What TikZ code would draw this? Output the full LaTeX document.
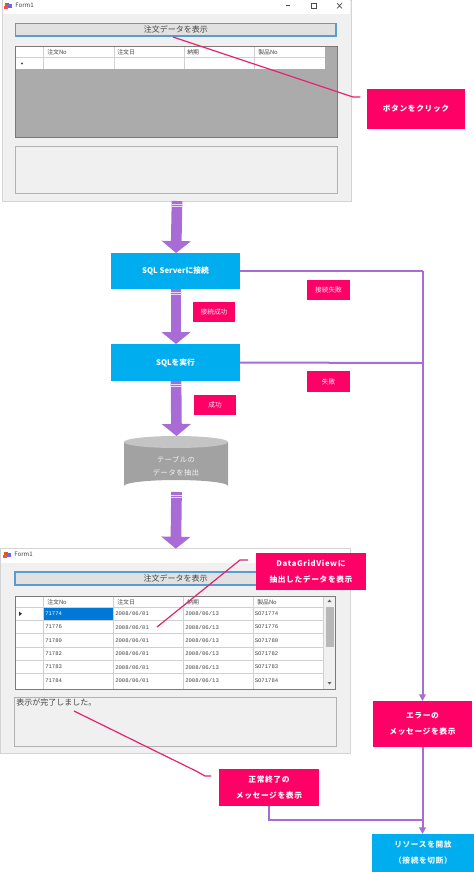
\documentclass[tikz,border=0pt]{standalone}
\usepackage{fontspec}
\usetikzlibrary{arrows.meta}
\setmainfont{Noto Sans CJK JP}
\newfontfamily\spaced[LetterSpace=8]{Noto Sans CJK JP}
\setmonofont{Liberation Mono}
\definecolor{pinkbox}{HTML}{FF0066}
\definecolor{cyanbox}{HTML}{00AEEF}
\definecolor{purp}{HTML}{A96CD6}
\definecolor{pinkline}{HTML}{E0246E}
\definecolor{winbg}{HTML}{F0F0F0}
\definecolor{winedge}{HTML}{D4D4D4}
\definecolor{gridbg}{HTML}{ABABAB}
\definecolor{gridedge}{HTML}{7A7A7A}
\definecolor{cellline}{HTML}{D0D0D0}
\definecolor{btnblue}{HTML}{5A9BD0}
\definecolor{btnfill}{HTML}{E1E1E1}
\definecolor{txt}{HTML}{444444}
\definecolor{selcell}{HTML}{0078D7}
\newcommand{\BX}[7]{\node[#6,minimum width={(#4-#2)*0.75pt},minimum height={(#5-#3)*0.75pt}] (#1) at ({(#2+#4)/2},{(#3+#5)/2}) {#7};}
\tikzset{
 base/.style={inner sep=0pt,outer sep=0pt,rectangle,align=center},
 window/.style={base,fill=winbg,draw=winedge,line width=.6pt},
 titlebar/.style={base,fill=white},
 btn/.style={base,fill=btnfill,draw=btnblue,line width=.9pt,font=\fontsize{6}{7}\selectfont,text=txt},
 grid/.style={base,fill=gridbg,draw=gridedge,line width=.7pt},
 gridw/.style={base,fill=white,draw=gridedge,line width=.7pt},
 msg/.style={base,fill=winbg,draw=black!30,line width=.6pt},
 pinkb/.style={base,fill=pinkbox,text=white,font=\spaced\bfseries\fontsize{5.8}{12}\selectfont},
 pinks/.style={base,fill=pinkbox,text=white!90!pinkbox,font=\fontsize{5}{6}\selectfont},
 cyanb/.style={base,fill=cyanbox,text=white,font=\bfseries\fontsize{5.8}{12}\selectfont},
 cyanc/.style={base,fill=cyanbox,text=white!90!cyanbox,font=\spaced\bfseries\fontsize{5.8}{12}\selectfont},
 bigarrow/.style={draw=purp,line width=8pt,-{Triangle[length=9pt,width=21.5pt]}},
 stripe/.style={draw=white!75!purp,line width=.6pt},
 flow/.style={draw=purp,line width=1.5pt},
 flowarrow/.style={flow,-{Triangle[length=5pt,width=5pt]}},
 callout/.style={draw=pinkline,line width=.9pt},
 hd/.style={inner sep=0pt,anchor=west,font=\fontsize{4.4}{5}\selectfont,text=txt},
 cell/.style={inner sep=0pt,anchor=west,font=\ttfamily\fontsize{4.2}{5}\selectfont,text=txt},
 ttl/.style={inner sep=0pt,anchor=west,font=\fontsize{4.6}{5}\selectfont,text=txt},
 cellrule/.style={draw=cellline,line width=.5pt},
}
\begin{document}
\begin{tikzpicture}[x=0.75pt,y=-0.75pt]
\useasboundingbox (0,0) rectangle (474,872);
% ---- first window
\BX{winA}{2}{0}{351}{201}{window}{}
\BX{barA}{3}{0}{350}{14}{titlebar}{}
\fill[orange!80!black] (5,3) rectangle (9,7); \fill[blue!60] (8,4) rectangle (12,8); \fill[red!70] (4,6) rectangle (8,9);
\node[ttl] (titleA) at (15,5.5) {Form1};
\draw[black!70,line width=.5pt] (286,5.5) -- (290,5.5);
\draw[black!70,line width=.5pt] (311,3) rectangle (316,8.5);
\draw[black!70,line width=.5pt] (337,3) -- (342,8.5) (337,8.5) -- (342,3);
\BX{btnA}{15.5}{23.5}{336}{36}{btn}{注文データを表示}
\BX{gridA}{15}{46}{337}{137}{grid}{}
\fill[white] (16,47) rectangle (325,68.5);
\draw[cellrule] (16,57.5) -- (325,57.5);
\foreach \cx in {43.5,114,184.5,254.5}{\draw[cellrule] (\cx,47) -- (\cx,68.5);}
\node[hd] (hA1) at (47,52.5) {注文No};
\node[hd] (hA2) at (117,52.5) {注文日};
\node[hd] (hA3) at (187,52.5) {納期};
\node[hd] (hA4) at (258,52.5) {製品No};
\fill[black!70] (22,63.5) circle (1.2);
\BX{msgA}{15}{146}{337}{193}{msg}{}
% ---- flow boxes
\BX{conn}{111}{253}{240}{289}{cyanb}{SQL Serverに接続}
\BX{exec}{111}{344}{240}{381}{cyanb}{SQLを実行}
\BX{okconn}{193}{302}{235}{322}{pinks}{接続成功}
\BX{ok}{194}{395}{236}{415}{pinks}{成功}
\BX{ngconn}{307}{280}{350}{300}{pinks}{接続失敗}
\BX{ng}{307}{371}{350}{392}{pinks}{失敗}
% cylinder
\fill[gridbg!95!black] (124,442) -- (124,486) arc[start angle=180,end angle=360,x radius=52,y radius=6] -- (228,442) -- cycle;
\fill[black!23] (176,442) ellipse[x radius=52,y radius=6];
\BX{db}{124}{436}{228}{492}{base}{}
\node[base,text=white!85!gridbg,font=\spaced\fontsize{5.4}{10}\selectfont] (dbtext) at (176,466) {テーブルの\\データを抽出};
% ---- second window
\BX{winB}{0}{548}{350.5}{753}{window}{}
\BX{barB}{1}{549}{350}{563}{titlebar}{}
\fill[orange!80!black] (4,552) rectangle (8,556); \fill[blue!60] (7,553) rectangle (11,557); \fill[red!70] (3,555) rectangle (7,558);
\node[ttl] (titleB) at (14,554.5) {Form1};
\BX{btnB}{15}{572}{336}{585}{btn}{注文データを表示}
\BX{gridB}{15}{596}{335.5}{689}{gridw}{}
\foreach \ry in {607,620.3,633.6,647,660.3,673.6}{\draw[cellrule] (16,\ry) -- (324,\ry);}
\foreach \cx in {43.5,113.5,183.5,253.5,323.5}{\draw[cellrule] (\cx,596.5) -- (\cx,688.5);}
\fill[selcell] (44,607.5) rectangle (113,620);
\node[hd] (hB1) at (47,602) {注文No};
\node[hd] (hB2) at (117,602) {注文日};
\node[hd] (hB3) at (187,602) {納期};
\node[hd] (hB4) at (257,602) {製品No};
\fill[black!80] (19,611.5) -- (22,613.8) -- (19,616) -- cycle;
\fill[winbg] (324,596.5) rectangle (335,688.5);
\fill[black!28] (326,607) rectangle (334,647);
\fill[black!60] (327.5,602) -- (329.5,599.5) -- (331.5,602) -- cycle;
\fill[black!60] (327.5,682) -- (329.5,684.5) -- (331.5,682) -- cycle;
\foreach \i/\no/\yy in {0/71774/613.8,1/71776/627,2/71780/640.3,3/71782/653.6,4/71783/667,5/71784/680.3}{
  \ifnum\i=0
    \node[cell,text=white] (id\i) at (45,\yy) {\no};
  \else
    \node[cell] (id\i) at (45,\yy) {\no};
  \fi
  \node[cell] (d\i) at (115,\yy) {2008/06/01};
  \node[cell] (e\i) at (185,\yy) {2008/06/13};
  \node[cell] (p\i) at (254.5,\yy) {SO\no};
}
\BX{msgB}{14}{697}{336}{746}{msg}{}
\node[inner sep=0pt,anchor=west,font=\fontsize{6}{7}\selectfont,text=txt] (msgtxt) at (16,702) {表示が完了しました。};
% ---- pink annotation boxes
\BX{click}{367}{89}{465}{129}{pinkb}{ボタンをクリック}
\BX{dgv}{256}{553}{366}{590}{pinkb}{DataGridViewに\\抽出したデータを表示}
\BX{fin}{219}{769}{319}{806}{pinkb}{正常終了の\\メッセージを表示}
\BX{err}{373}{701}{472}{747}{pinkb}{エラーの\\メッセージを表示}
\BX{rel}{372}{834}{474}{872}{cyanc}{リソースを開放\\（接続を切断）}
% ---- big arrows
\draw[bigarrow] ([xshift=0.4pt]winA.south) -- ([xshift=0.4pt]conn.north);
\draw[bigarrow] ([xshift=0.4pt]conn.south) -- ([xshift=0.4pt]exec.north);
\draw[bigarrow] ([xshift=0.4pt]exec.south) -- ([xshift=0.4pt]db.north);
\draw[bigarrow] ([xshift=0.4pt]db.south) -- ([xshift=0.4pt,yshift=-0.5pt]winB.north);
\foreach \n in {winA,conn,exec,db}{
  \draw[stripe] ([xshift=-3.7pt,yshift=-2.2pt]\n.south) -- ([xshift=4.5pt,yshift=-2.2pt]\n.south);
  \draw[stripe] ([xshift=-3.7pt,yshift=-4pt]\n.south) -- ([xshift=4.5pt,yshift=-4pt]\n.south);
}
% ---- thin flow lines
\coordinate (busT) at (422.5,271);
\coordinate (busM) at (422.5,363);
\coordinate (busB) at (422.5,820);
\draw[flow] (conn.east) -- (busT);
\draw[flow] (exec.east) -- (busM);
\draw[flowarrow] (busT) -- (err.north -| busT);
\draw[flowarrow] (err.south -| busB) -- (rel.north -| busB);
\draw[flow] (fin.south) |- (busB);
% ---- callouts
\coordinate (c1a) at (173,37); \coordinate (c1b) at (353,97);
\draw[callout] (c1a) -- (c1b) -- ([xshift=-5pt]click.west |- c1b);
\coordinate (c2a) at (157,627); \coordinate (c2b) at (240,560);
\draw[callout] (c2a) -- (c2b) -- ([xshift=-6pt]dgv.west |- c2b);
\coordinate (c3a) at (74,711); \coordinate (c3b) at (196,771); \coordinate (c3c) at (205,776);
\draw[callout] (c3a) -- (c3b) -- (c3c) -- ([xshift=-6pt]fin.west |- c3c);
\end{tikzpicture}
\end{document}
